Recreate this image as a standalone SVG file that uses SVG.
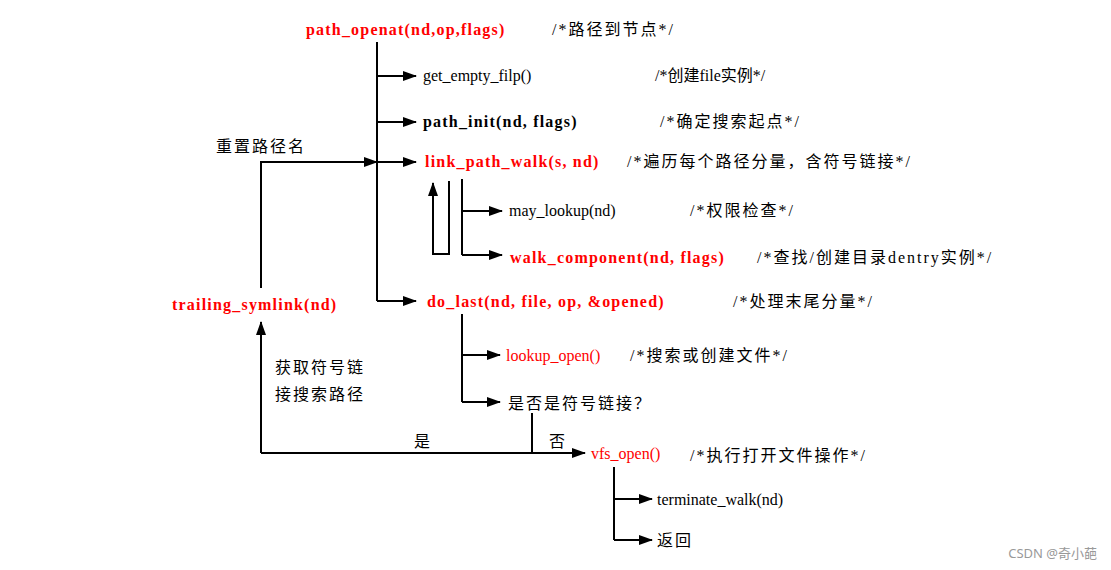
<svg xmlns="http://www.w3.org/2000/svg" width="1111" height="570" viewBox="0 0 1111 570">
<style>
text{font-family:"Liberation Serif","Noto Sans CJK SC",serif;font-size:16px;fill:#000}
.r{fill:#f00}
.b{font-weight:bold;letter-spacing:1.2px}
.c{letter-spacing:2px}
line,polyline{stroke:#000;stroke-width:2;fill:none}
.a{marker-end:url(#ah)}
</style>
<defs><marker id="ah" markerWidth="14" markerHeight="10" refX="13" refY="5" orient="auto" markerUnits="userSpaceOnUse"><path d="M0,0L14,5L0,10z" fill="#000"/></marker></defs>
<rect width="1111" height="570" fill="#fff"/>
<g id="connectors">
<line x1="377" y1="42" x2="377" y2="301"/>
<line class="a" x1="377" y1="76" x2="416" y2="76"/>
<line class="a" x1="377" y1="122" x2="416" y2="122"/>
<line class="a" x1="377" y1="162" x2="416" y2="162"/>
<line class="a" x1="377" y1="301" x2="416" y2="301"/>
<polyline class="a" points="261,288 261,162 377,162"/>
<polyline class="a" points="449,181 449,254 433,254 433,183"/>
<line x1="462" y1="179" x2="462" y2="255"/>
<line class="a" x1="462" y1="211" x2="502" y2="211"/>
<line class="a" x1="462" y1="255" x2="502" y2="255"/>
<line x1="462" y1="314" x2="462" y2="402"/>
<line class="a" x1="462" y1="355" x2="500" y2="355"/>
<line class="a" x1="462" y1="402" x2="500" y2="402"/>
<line x1="532" y1="413" x2="532" y2="453"/>
<line class="a" x1="261" y1="453" x2="585" y2="453"/>
<line class="a" x1="261" y1="453" x2="261" y2="322"/>
<line x1="614" y1="467" x2="614" y2="540"/>
<line class="a" x1="614" y1="499" x2="652" y2="499"/>
<line class="a" x1="614" y1="540" x2="652" y2="540"/>
</g>
<g id="path_openat"><text x="306" y="35" class="r b">path_openat(nd,op,flags)</text><text x="552" y="35" class="c">/*路径到节点*/</text></g>
<g id="get_empty_filp"><text x="423" y="81">get_empty_filp()</text><text x="655" y="81">/*创建file实例*/</text></g>
<g id="path_init"><text x="423" y="127" class="b">path_init(nd, flags)</text><text x="660" y="127" class="c">/*确定搜索起点*/</text></g>
<g id="link_path_walk"><text x="425" y="167" class="r b">link_path_walk(s, nd)</text><text x="627" y="167" class="c">/*遍历每个路径分量，含符号链接*/</text></g>
<g id="may_lookup"><text x="509" y="216">may_lookup(nd)</text><text x="690" y="216" class="c">/*权限检查*/</text></g>
<g id="walk_component"><text x="510" y="263" class="r b">walk_component(nd, flags)</text><text x="757" y="263" class="c">/*查找/创建目录dentry实例*/</text></g>
<g id="do_last"><text x="427" y="307" class="r b">do_last(nd, file, op, &amp;opened)</text><text x="733" y="307" class="c">/*处理末尾分量*/</text></g>
<g id="trailing_symlink"><text x="172" y="310" class="r b">trailing_symlink(nd)</text></g>
<g id="reset"><text x="216" y="152" class="c">重置路径名</text></g>
<g id="lookup_open"><text x="506" y="361" class="r">lookup_open()</text><text x="630" y="361" class="c">/*搜索或创建文件*/</text></g>
<g id="is_symlink"><text x="508" y="409" class="c">是否是符号链接？</text></g>
<g id="get_symlink"><text x="275" y="373" class="c">获取符号链</text><text x="275" y="400" class="c">接搜索路径</text></g>
<text x="414" y="447">是</text><text x="549" y="447">否</text>
<g id="vfs_open"><text x="591" y="459" class="r">vfs_open()</text><text x="690" y="461" class="c">/*执行打开文件操作*/</text></g>
<g id="terminate_walk"><text x="657" y="505">terminate_walk(nd)</text></g>
<g id="ret"><text x="657" y="546" class="c">返回</text></g>
<text x="1097" y="558" text-anchor="end" style="font-family:'Noto Sans','Noto Sans CJK SC',sans-serif;font-size:13px;fill:#999">CSDN @奇小葩</text>
</svg>
